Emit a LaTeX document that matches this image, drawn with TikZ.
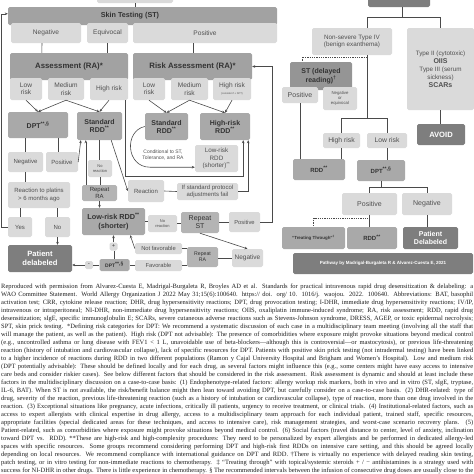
\documentclass[tikz,border=0pt]{standalone}
\usepackage{fontspec}
\setmainfont{Liberation Serif}
\setsansfont{Liberation Sans}
\usepackage{xcolor}
\usepackage{tikz}
\usetikzlibrary{calc,arrows.meta}
\definecolor{ink}{HTML}{333333}
\definecolor{soft}{HTML}{505050}
\definecolor{inkn}{HTML}{1E1E1E}
\definecolor{wire}{HTML}{4A4A4A}
\definecolor{pale}{HTML}{DADADA}
\definecolor{headg}{HTML}{A2A2A2}
\definecolor{stg}{HTML}{959595}
\definecolor{midg}{HTML}{A9A9A9}
\definecolor{repg}{HTML}{B4B4B4}
\definecolor{darkg}{HTML}{7E7E7E}
\newcommand{\fsz}[2]{\fontsize{#1}{#2}\selectfont}
\newcommand{\noteline}[1]{\hbox to 472pt{#1}}
\tikzset{
  box/.style={rounded corners=1.6pt, inner sep=0.6pt, align=center, text=soft, font=\sffamily\fsz{6.6}{7.4}},
  subbox/.style={box, fill=pale},
  tinybox/.style={box, fill=pale, font=\sffamily\fsz{4}{4.6}},
  headbox/.style={box, fill=headg, text=ink, font=\sffamily\bfseries\fsz{7.8}{9}},
  midbox/.style={box, fill=midg, text=ink, font=\sffamily\bfseries\fsz{7}{8}},
  repbox/.style={box, fill=repg, text=ink, font=\sffamily\fsz{6}{7}},
  darkbox/.style={box, fill=darkg, text=white, font=\sffamily\bfseries\fsz{7.6}{8.6}},
  headlab/.style={inner sep=0pt, text=ink, font=\sffamily\bfseries\fsz{7.2}{8}},
  wh/.style 2 args={minimum width=#1pt, minimum height=#2pt},
  link/.style={draw=wire, line width=0.6pt},
  arr/.style={link, -{Stealth[length=3pt,width=2.6pt]}},
  dsh/.style={link, dash pattern=on 1pt off 0.8pt, line width=0.5pt},
  notes/.style={inner sep=0pt, text=inkn, font=\rmfamily\fsz{6.5}{8}},
}
\begin{document}
\begin{tikzpicture}[x=1pt,y=-1pt]
  \useasboundingbox (0,0) rectangle (474,474);
  \clip (0,0) rectangle (474,474);
  % left pathway
  \node[subbox, wh={76}{12}] (topL) at (135,-3) {};
  \node[headbox, wh={269}{18}] (st) at (142.5,16) {};
  \node[headlab] (stt) at (130,15.5) {Skin Testing (ST)};
  \node[subbox, wh={70}{20}] (stneg) at (46,33) {Negative};
  \node[subbox, wh={41}{20}] (steq) at (107.5,33) {Equivocal};
  \node[subbox, wh={144}{20}] (stpos) at (205,33) {Positive};

  \node[headbox, wh={118}{27}] (assess) at (69,66.5) {Assessment (RA)*};
  \node[subbox, wh={32}{22}] (alow) at (26,89) {Low\\risk};
  \node[subbox, wh={36}{22}] (amed) at (66,89) {Medium\\risk};
  \node[subbox, wh={38}{22}] (ahigh) at (109,89) {High risk};
  \node[headbox, wh={119}{27}] (riskA) at (192.5,66.5) {Risk Assessment (RA)*};
  \node[subbox, wh={32}{22}] (rlow) at (149,89) {Low\\risk};
  \node[subbox, wh={37}{22}] (rmed) at (189.5,89) {Medium\\risk};
  \node[subbox, wh={38}{22}] (rhigh) at (232,89) {High risk\\{\fsz{2.6}{3}(consider if + SPT)}};

  \node[midbox, wh={60}{26}] (dptL) at (38,125) {DPT\textsuperscript{**,\S}};
  \node[midbox, wh={45}{28}] (stdL) at (99.5,126) {Standard\\RDD\textsuperscript{**}};
  \node[midbox, wh={43}{27}] (stdR) at (166.5,126.5) {Standard\\RDD\textsuperscript{**}};
  \node[midbox, wh={50}{27}] (hiR) at (225,126.5) {High-risk\\RDD\textsuperscript{**}};

  \node[subbox, wh={35}{20}, font=\sffamily\fsz{6}{7}] (dneg) at (25.5,162) {Negative};
  \node[subbox, wh={32}{20}, font=\sffamily\fsz{6}{7}] (dpos) at (62,162) {Positive};
  \node[subbox, wh={62}{26}, font=\sffamily\fsz{6}{7.4}] (plat) at (39,195) {Reaction to platins\\> 6 months ago};
  \node[subbox, wh={24}{20}, font=\sffamily\fsz{6}{7}] (yes) at (20,227) {Yes};
  \node[subbox, wh={25}{20}, font=\sffamily\fsz{6}{7}] (no) at (57.5,227) {No};
  \node[darkbox, wh={64}{27}] (bdel) at (40,258.5) {Patient\\delabeled};

  \node[tinybox, wh={24}{17}] (nor1) at (100,168.5) {No\\reaction};
  \node[repbox, wh={35}{16}] (rep1) at (99.5,193) {Repeat\\RA};
  \node[subbox, wh={36}{22}, font=\sffamily\fsz{6}{7}] (reac) at (146,191) {Reaction};
  \node[subbox, wh={61}{17}, font=\sffamily\fsz{6}{6.8}] (ifs) at (207.5,191.5) {If standard protocol\\adjustments fail};
  \node[subbox, wh={43}{27}, font=\sffamily\fsz{6.3}{7.5}] (lowR) at (216.5,158.5) {Low-risk\\RDD\\(shorter)\textsuperscript{**}};
  \node[inner sep=0pt, align=center, text=soft, font=\sffamily\fsz{5}{6}] (cond) at (163,155) {Conditional to ST,\\Tolerance, and RA};

  \node[midbox, wh={63}{27}, font=\sffamily\bfseries\fsz{7.3}{8.5}] (lowB) at (113.5,221.5) {Low-risk RDD\textsuperscript{**}\\(shorter)};
  \node[tinybox, wh={29}{17}] (nor2) at (162.5,223.5) {No\\reaction};
  \node[repbox, wh={38}{21}, font=\sffamily\fsz{7}{8}] (repST) at (200,222.5) {Repeat\\ST};
  \node[subbox, wh={31}{20}, font=\sffamily\fsz{5.8}{7}] (pos2) at (244.5,222) {Positive};
  \node[subbox, wh={31}{18}, font=\sffamily\fsz{6.5}{7}] (neg2) at (247.5,258) {Negative};
  \node[repbox, wh={31}{20}, font=\sffamily\fsz{5.2}{6.2}] (rep2) at (202.5,257) {Repeat\\RA};
  \node[subbox, wh={47}{11}, font=\sffamily\fsz{5.8}{7}] (notfav) at (158.5,248.5) {Not favorable};
  \node[subbox, wh={47}{11}, font=\sffamily\fsz{5.8}{7}] (fav) at (158.5,265.5) {Favorable};
  \node[midbox, wh={30}{12}, font=\sffamily\bfseries\fsz{5}{6}] (dptB) at (114.5,265) {DPT\textsuperscript{**,\S}};
  \node[subbox, wh={8}{8}, font=\sffamily\bfseries\fsz{5}{6}] (plus) at (113.5,246.5) {+};
  \node[subbox, wh={8}{8}, font=\sffamily\bfseries\fsz{5}{6}] (minus) at (89,265) {-};

  \draw[link] (topL.south) -- (topL.south |- st.north);
  \draw[link] (stneg.south) ++(-4,0) -- ($(assess.north west)+(32,0)$);
  \draw[link] (steq.south) -- (steq.south |- assess.north);
  \draw[link] ($(stpos.south)+(-12,0)$) -- ($(riskA.north)+(0.5,0)$);
  \draw[arr] (alow.south) -- (dptL.north);
  \draw[arr] (amed.south) -- (dptL.north);
  \draw[arr] (amed.south) -- (stdL.north);
  \draw[arr] (ahigh.south) -- (stdL.north);
  \draw[arr] (rlow.south) -- (stdR.north);
  \draw[arr] (rmed.south) -- (stdR.north);
  \draw[arr] (rmed.south) -- (hiR.north);
  \draw[arr] (rhigh.south) -- (hiR.north);
  \coordinate (hrA) at ($(ahigh.south east)+(-3,0)$);
  \draw[arr] (hrA) |- ($(hiR.south east)+(-7,36)$) -- ($(hiR.south east)+(-7,0)$);
  \draw[link] (dneg.north) -- (dneg.north |- dptL.south);
  \draw[link] ($(dpos.north)+(-4,0)$) -- ($(dpos.north |- dptL.south)+(-4,0)$);
  \draw[arr] (dpos.east) -- ($(stdL.south west)+(4,0)$);
  \draw[link] (dneg.south) -- (dneg.south |- plat.north);
  \draw[link] (yes.north) -- (yes.north |- plat.south);
  \draw[link] (no.north) -- (no.north |- plat.south);
  \coordinate (rail) at (1.5,0);
  \coordinate (railtop) at ($(st.north west)+(0,7)$);
  \draw[arr] (yes.west) -- (yes.west -| rail) |- (railtop);
  \draw[arr] (no.south) -- (no.south |- bdel.north);
  \draw[link] (stdL.south) -- (stdL.south |- nor1.north);
  \draw[link] (nor1.south) -- (nor1.south |- rep1.north);
  \draw[arr] (rep1.south) -- (rep1.south |- lowB.north);
  \draw[arr] ($(rep1.north west)+(4,0)$) -- ($(stdL.south west)+(9,0)$);
  \draw[arr] ($(stdL.south east)+(-11,0)$) -- (reac.west);
  \draw[link] (reac.east) -- (ifs.west);
  \draw[arr] (ifs.east) -| ($(hiR.south east)+(-2,0)$);
  \draw[arr] (stdR.west) .. controls (124,131) and (126,167) .. ($(lowR.south west)+(-45,-5)$) -- ($(lowR.south west)+(0,-5)$);
  \draw[link] (lowB.east) -- (lowB.east -| nor2.west);
  \draw[link] (nor2.east) -- (nor2.east -| repST.west);
  \draw[link] (repST.east) -- (repST.east -| pos2.west);
  \coordinate (rrail) at (272,0);
  \draw[arr] (pos2.east) -- (pos2.east -| rrail) |- (riskA.east);
  \draw[arr] (repST.south) -- (neg2.north);
  \draw[link] (neg2.west) -- (neg2.west -| rep2.east);
  \draw[link] (notfav.east) -- (notfav.east -| rep2.west);
  \draw[link] (fav.east) -- (fav.east -| rep2.west);
  \draw[arr] (notfav.west) -- ($(lowB.south east)+(-15,0)$);
  \draw[link] (fav.west) -- (fav.west -| dptB.east);
  \draw[link] (dptB.north) -- (dptB.north |- plus.south);
  \draw[arr] (plus.north) -- (plus.north |- lowB.south);
  \draw[link] (dptB.west) -- (dptB.west -| minus.east);
  \draw[arr] (minus.west) -- (minus.west -| bdel.east);

  % right pathway
  \node[darkbox, wh={62}{16}] (topR) at (399,-1) {};
  \node[subbox, wh={80}{27}, font=\sffamily\fsz{6.3}{7.6}] (nonsev) at (352,41.5) {Non-severe Type IV\\(benign exanthema)};
  \node[subbox, wh={67}{82}, font=\sffamily\fsz{6.3}{8}] (type2) at (440.5,69) {Type II (cytotoxic)\\{\bfseries\fsz{7}{8}OIIS}\\Type III (serum\\sickness)\\{\bfseries\fsz{7}{9}SCARs}};
  \node[darkbox, wh={48}{21}] (avoid) at (441,134.5) {AVOID};
  \node[headbox, fill=stg, wh={62}{28}, font=\sffamily\bfseries\fsz{7}{8}] (stdel) at (321,76) {ST (delayed\\reading)\textsuperscript{\textdagger}};
  \node[subbox, wh={36}{16}, font=\sffamily\fsz{7}{8}] (pos3) at (300,95) {Positive};
  \node[subbox, wh={34}{23}, font=\sffamily\fsz{4.3}{5.2}] (negeq) at (340,98.5) {Negative\\or\\equivocal};
  \node[subbox, wh={37}{15}, font=\sffamily\fsz{6.8}{8}] (hr) at (341.5,140.5) {High risk};
  \node[subbox, wh={40}{15}, font=\sffamily\fsz{6.8}{8}] (lr) at (387,140.5) {Low risk};
  \node[midbox, wh={52}{21}, font=\sffamily\bfseries\fsz{6}{7}] (rdd3) at (319,169.5) {RDD\textsuperscript{**}};
  \node[midbox, wh={48}{21}, font=\sffamily\bfseries\fsz{6}{7}] (dpt3) at (381,170.5) {DPT\textsuperscript{**,\S}};
  \node[subbox, wh={55}{22}, font=\sffamily\fsz{7}{8}] (pos4) at (369.5,204) {Positive};
  \node[subbox, wh={50}{22}, font=\sffamily\fsz{7}{8}] (neg4) at (427,204) {Negative};
  \node[midbox, wh={63}{22}, font=\sffamily\bfseries\fsz{4.4}{5}] (tt) at (313.5,238) {“Treating Through”\textsuperscript{\textdaggerdbl}};
  \node[midbox, wh={50}{22}, font=\sffamily\bfseries\fsz{6}{7}] (rdd4) at (372,238) {RDD\textsuperscript{**}};
  \node[darkbox, wh={55}{22}, font=\sffamily\bfseries\fsz{7}{8}] (pdel) at (430.5,238) {Patient\\Delabeled};
  \node[darkbox, wh={180}{21}, font=\sffamily\bfseries\fsz{4.5}{5}] (foot) at (383,263.5) {Pathway by Madrigal-Burgaleta R \& Alvarez-Cuesta E, 2021};

  \coordinate (tj) at ($(topR.south)+(3,10)$);
  \draw[link] ($(topR.south)+(3,0)$) -- (tj);
  \draw[link] ($(nonsev.north)+(15,0)$) |- (tj) -| (type2.north);
  \draw[link] (type2.south) -- (type2.south |- avoid.north);
  \coordinate (nsd) at ($(nonsev.south)+(15,0)$);
  \coordinate (nsj) at ($(nsd)+(0,63)$);
  \draw[link] (nsd) -- (nsj);
  \draw[link] (hr.north) |- (nsj) -| (lr.north);
  \draw[dsh] ($(nsd)+(0,2)$) -| ($(stdel.north west)+(12,0)$);
  \draw[link] (pos3.south) -- (pos3.south |- rdd3.north);
  \draw[link] (hr.south) -- (hr.south |- rdd3.north);
  \draw[link] (lr.south) -- (lr.south |- dpt3.north);
  \coordinate (dj) at ($(dpt3.south)+(0,6)$);
  \draw[link] (dpt3.south) -- (dj);
  \draw[link] (pos4.north) |- (dj) -| (neg4.north);
  \draw[link] (pos4.south) -- (pos4.south |- rdd4.north);
  \draw[dsh] ($(pos4.south)+(0,3)$) -| (tt.north);
  \draw[link] (neg4.south) -- (neg4.south |- pdel.north);

  % footnote text
  \node[notes, anchor=north west] (notes) at (1,283.5) {\vbox{%
    \noteline{Reproduced with permission from Alvarez-Cuesta E, Madrigal-Burgaleta R, Broyles AD et al. Standards for practical intravenous rapid drug desensitization \& delabeling: a}
    \noteline{WAO Committee Statement. World Allergy Organization J 2022 May 31;15(6):100640. https:// doi. org/ 10. 1016/j. waojou. 2022. 100640. Abbreviations: BAT, basophil}
    \noteline{activation test; CRR, cytokine release reaction; DHR, drug hypersensitivity reactions; DPT, drug provocation testing; I-DHR, immediate drug hypersensitivity reactions; IV/IP,}
    \noteline{intravenous or intraperitoneal; NI-DHR, non-immediate drug hypersensitivity reactions; OIIS, oxaliplatin immune-induced syndrome; RA, risk assessment; RDD, rapid drug}
    \noteline{desensitization; sIgE, specific immunoglobulin E; SCARs, severe cutaneous adverse reactions such as Stevens-Johnson syndrome, DRESS, AGEP, or toxic epidermal necrolysis;}
    \noteline{SPT, skin prick testing. *Defining risk categories for DPT: We recommend a systematic discussion of each case in a multidisciplinary team meeting (involving all the staff that}
    \noteline{will manage the patient, as well as the patient). High risk (DPT not advisable): The presence of comorbidities where exposure might provoke situations beyond medical control}
    \noteline{(e.g., uncontrolled asthma or lung disease with FEV1 < 1 L, unavoidable use of beta-blockers---although this is controversial---or mastocytosis), or previous life-threatening}
    \noteline{reaction (history of intubation and cardiovascular collapse), lack of specific resources for DPT. Patients with positive skin prick testing (not intradermal testing) have been linked}
    \noteline{to a higher incidence of reactions during RDD in two different populations (Ramon y Cajal University Hospital and Brigham and Women's Hospital). Low and medium risk}
    \noteline{(DPT potentially advisable): These should be defined locally and for each drug, as several factors might influence this (e.g., some centers might have easy access to intensive}
    \noteline{care beds and consider riskier cases). See below different factors that should be considered in the risk assessment. Risk assessment is dynamic and should at least include these}
    \noteline{factors in the multidisciplinary discussion on a case-to-case basis: (1) Endophenotype-related factors: allergy workup risk markers, both in vivo and in vitro (ST, sIgE, tryptase,}
    \noteline{IL-6, BAT). When ST is not available, the risk/benefit balance might then lean toward avoiding DPT, but carefully consider on a case-to-case basis. (2) DHR-related: type of}
    \noteline{drug, severity of the reaction, previous life-threatening reaction (such as a history of intubation or cardiovascular collapse), type of reaction, more than one drug involved in the}
    \noteline{reaction. (3) Exceptional situations like pregnancy, acute infections, critically ill patients, urgency to receive treatment, or clinical trials. (4) Institutional-related factors, such as}
    \noteline{access to expert allergists with clinical expertise in drug allergy, access to a multidisciplinary team approach for each individual patient, trained staff, specific resources,}
    \noteline{appropriate facilities (special dedicated areas for these techniques, and access to intensive care), risk management strategies, and worst-case scenario recovery plans. (5)}
    \noteline{Patient-related, such as comorbidities where exposure might provoke situations beyond medical control. (6) Social factors (travel distance to center, level of anxiety, inclination}
    \noteline{toward DPT vs. RDD). **These are high-risk and high-complexity procedures: They need to be personalized by expert allergists and be performed in dedicated allergy-led}
    \noteline{spaces with specific resources. Some groups recommend considering performing DPT and high-risk first RDDs on intensive care setting, and this should be agreed locally}
    \noteline{depending on local resources. We recommend compliance with international guidance on DPT and RDD. \textdagger There is virtually no experience with delayed reading skin testing,}
    \noteline{patch testing, or in vitro testing for non-immediate reactions to chemotherapy. \textdaggerdbl\ “Treating through” with topical/systemic steroids + / − antihistamines is a strategy used with}
    \noteline{success for NI-DHR in other drugs. There is little experience in chemotherapy. \S\ The recommended intervals between the infusion of consecutive drug doses are usually close to the}
  }};
\end{tikzpicture}
\end{document}
